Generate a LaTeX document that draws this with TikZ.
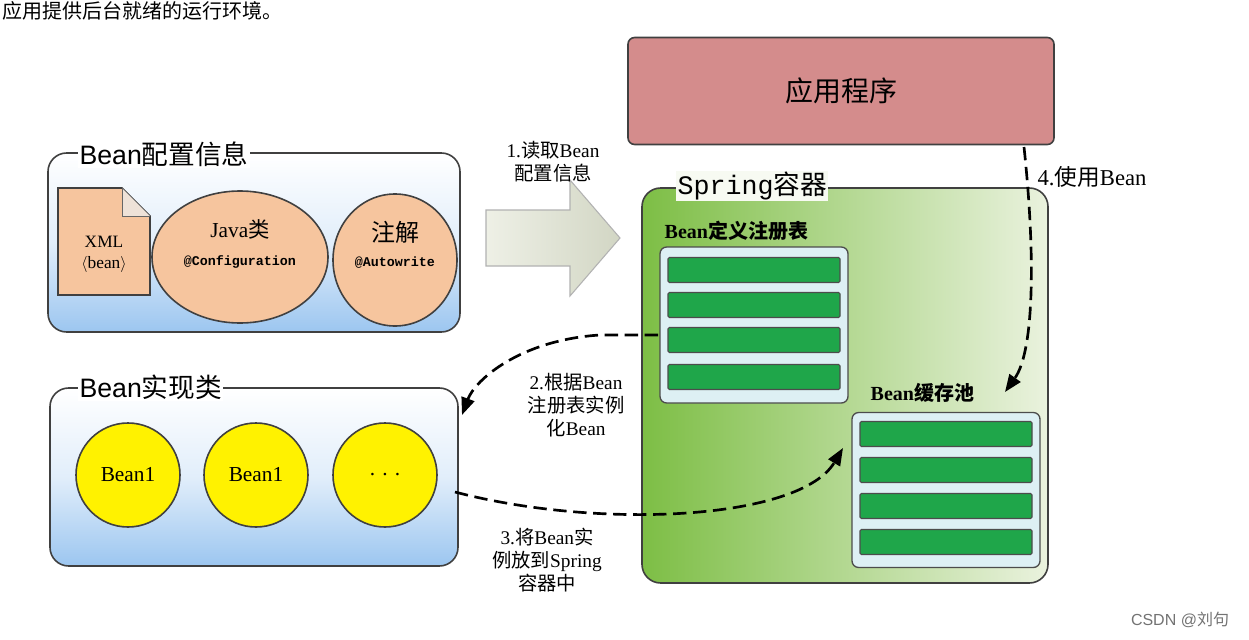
\documentclass[tikz,border=0pt]{standalone}
\usepackage{fontspec}
\setmainfont{Liberation Serif}
\newfontfamily\cjk{Noto Sans CJK SC}
\newfontfamily\mono{Liberation Mono}
\newfontfamily\sans{Liberation Sans}
\usetikzlibrary{arrows.meta,shapes.geometric}
\definecolor{rowgreen}{HTML}{1FA64A}
\definecolor{regblue}{HTML}{DDF0F4}
\definecolor{appred}{HTML}{D48C8C}
\definecolor{peach}{HTML}{F6C59E}
\definecolor{boxblue}{HTML}{9CC6F0}
\definecolor{dgreen}{HTML}{7DBE45}
\definecolor{lgreen}{HTML}{EAF2DE}
\definecolor{arrowl}{HTML}{EEF0E6}
\definecolor{arrowr}{HTML}{D2D6C4}
\tikzset{
  panel/.style={draw=black!75,line width=1.2pt,rounded corners=14pt},
  bluepanel/.style={panel,top color=white,bottom color=boxblue,middle color=white!70!boxblue},
  reg/.style={draw=black!70,line width=1pt,fill=regblue,rounded corners=5pt},
  row/.style={draw=black!70,line width=0.8pt,fill=rowgreen,rounded corners=1pt},
  peachshape/.style={draw=black!75,line width=1.2pt,fill=peach},
  bean/.style={circle,draw=black!75,line width=1.2pt,fill=yellow,minimum size=104pt*0.75},
  ttl/.style={font=\fontsize{20}{20}\selectfont,inner sep=1pt},
  lbl/.style={font=\fontsize{14.5}{17}\selectfont,align=center,inner sep=1pt},
  dashline/.style={dash pattern=on 10pt off 5pt,line width=2pt,-{Triangle[length=13pt,width=10pt]}}
}
\begin{document}
\begin{tikzpicture}[x=0.75pt,y=-0.75pt]
\useasboundingbox[fill=white] (0,0) rectangle (1249,639);
\node[anchor=west,font=\cjk\fontsize{15}{15}\selectfont,inner sep=0] (top) at (2,11) {应用提供后台就绪的运行环境。};
% app
\node[panel,rounded corners=5pt,fill=appred,minimum width=426*0.75pt,minimum height=107*0.75pt] (app) at (841,91) {\cjk\fontsize{21}{21}\selectfont 应用程序};
% spring container
\path[panel,left color=dgreen,right color=lgreen] (642,188) rectangle (1048,583);
\node[ttl,fill=white!60!lgreen,anchor=west] (sp) at (676,186) {\mono Spring\cjk 容器};
\node[font=\bfseries\fontsize{15}{15}\selectfont,anchor=west] (regt) at (660,231) {Bean\cjk 定义注册表};
\node[reg,minimum width=188*0.75pt,minimum height=156*0.75pt] (reg) at (754,325) {};
\foreach \y/\n in {270/1,305/2,340/3,377/4}
  \node[row,minimum width=172*0.75pt,minimum height=25*0.75pt] (r\n) at (754,\y) {};
\node[font=\bfseries\fontsize{15}{15}\selectfont,anchor=west] (cachet) at (866,393) {Bean\cjk 缓存池};
\node[reg,minimum width=188*0.75pt,minimum height=155*0.75pt] (cache) at (946,490) {};
\foreach \y/\n in {434/1,470/2,506/3,542/4}
  \node[row,minimum width=172*0.75pt,minimum height=25*0.75pt] (c\n) at (946,\y) {};
% config panel
\path[bluepanel] (48,153) rectangle (460,332);
\node[ttl,fill=white,anchor=west] (cfgt) at (78,154) {\sans Bean\cjk 配置信息};
\path[peachshape] (58,188) -- (122,188) -- (150,216) -- (150,295) -- (58,295) -- cycle;
\path[draw=black!60,fill=peach!80!black!30] (122,188) -- (122,216) -- (150,216);
\node[lbl,font=\fontsize{13}{16}\selectfont] (xml) at (104,254) {XML\\$\langle$bean$\rangle$};
\node[ellipse,peachshape,minimum width=176*0.75pt,minimum height=132*0.75pt,inner sep=0] (java) at (240,257) {};
\node[font=\fontsize{16}{16}\selectfont] at (240,229) {Java\cjk 类};
\node[font=\mono\bfseries\fontsize{10}{10}\selectfont] at (240,262) {@Configuration};
\node[ellipse,peachshape,minimum width=124*0.75pt,minimum height=132*0.75pt,inner sep=0] (anno) at (395,260) {};
\node[font=\cjk\fontsize{18}{18}\selectfont] at (395,232) {注解};
\node[font=\mono\bfseries\fontsize{10}{10}\selectfont] at (395,263) {@Autowrite};
% impl panel
\path[bluepanel] (50,388) rectangle (458,566);
\node[ttl,fill=white,anchor=west] (implt) at (78,387) {\sans Bean\cjk 实现类};
\node[bean] (b1) at (128,475) {\fontsize{16}{16}\selectfont Bean1};
\node[bean] (b2) at (256,475) {\fontsize{16}{16}\selectfont Bean1};
\node[bean] (b3) at (385,475) {\fontsize{16}{16}\selectfont . . .};
% big arrow
\path[draw=black!30,line width=0.8pt,left color=arrowl,right color=arrowr]
  (486,210) -- (570,210) -- (570,180) -- (620,238) -- (570,296) -- (570,266) -- (486,266) -- cycle;
\node[lbl] (l1) at (553,162) {1.\cjk 读取\rmfamily Bean\\\cjk 配置信息};
% connectors
\coordinate (s2) at (658,335);
\coordinate (e2) at (462,415);
\draw[dashline] (s2) -- (600,335) .. controls (520,340) and (475,380) .. (e2);
\node[lbl] (l2) at (576,405) {2.\cjk 根据\rmfamily Bean\\\cjk 注册表实例\\\cjk 化\rmfamily Bean};
\coordinate (s3) at (455,492);
\coordinate (e3) at (843,448);
\draw[dashline] (s3) .. controls (600,530) and (800,520) .. (e3);
\node[lbl] (l3) at (547,560) {3.\cjk 将\rmfamily Bean\cjk 实\\\cjk 例放到\rmfamily Spring\\\cjk 容器中};
\coordinate (s4) at (1024,147);
\coordinate (e4) at (1005,392);
\draw[dashline] (s4) .. controls (1035,250) and (1035,350) .. (e4);
\node[lbl,anchor=west,font=\fontsize{17}{17}\selectfont] (l4) at (1036,177) {4.\cjk 使用\rmfamily Bean};
\node[font=\sans\fontsize{12}{12}\selectfont,text=black!55] (wm) at (1180,620) {CSDN @\cjk 刘句};
\end{tikzpicture}
\end{document}
